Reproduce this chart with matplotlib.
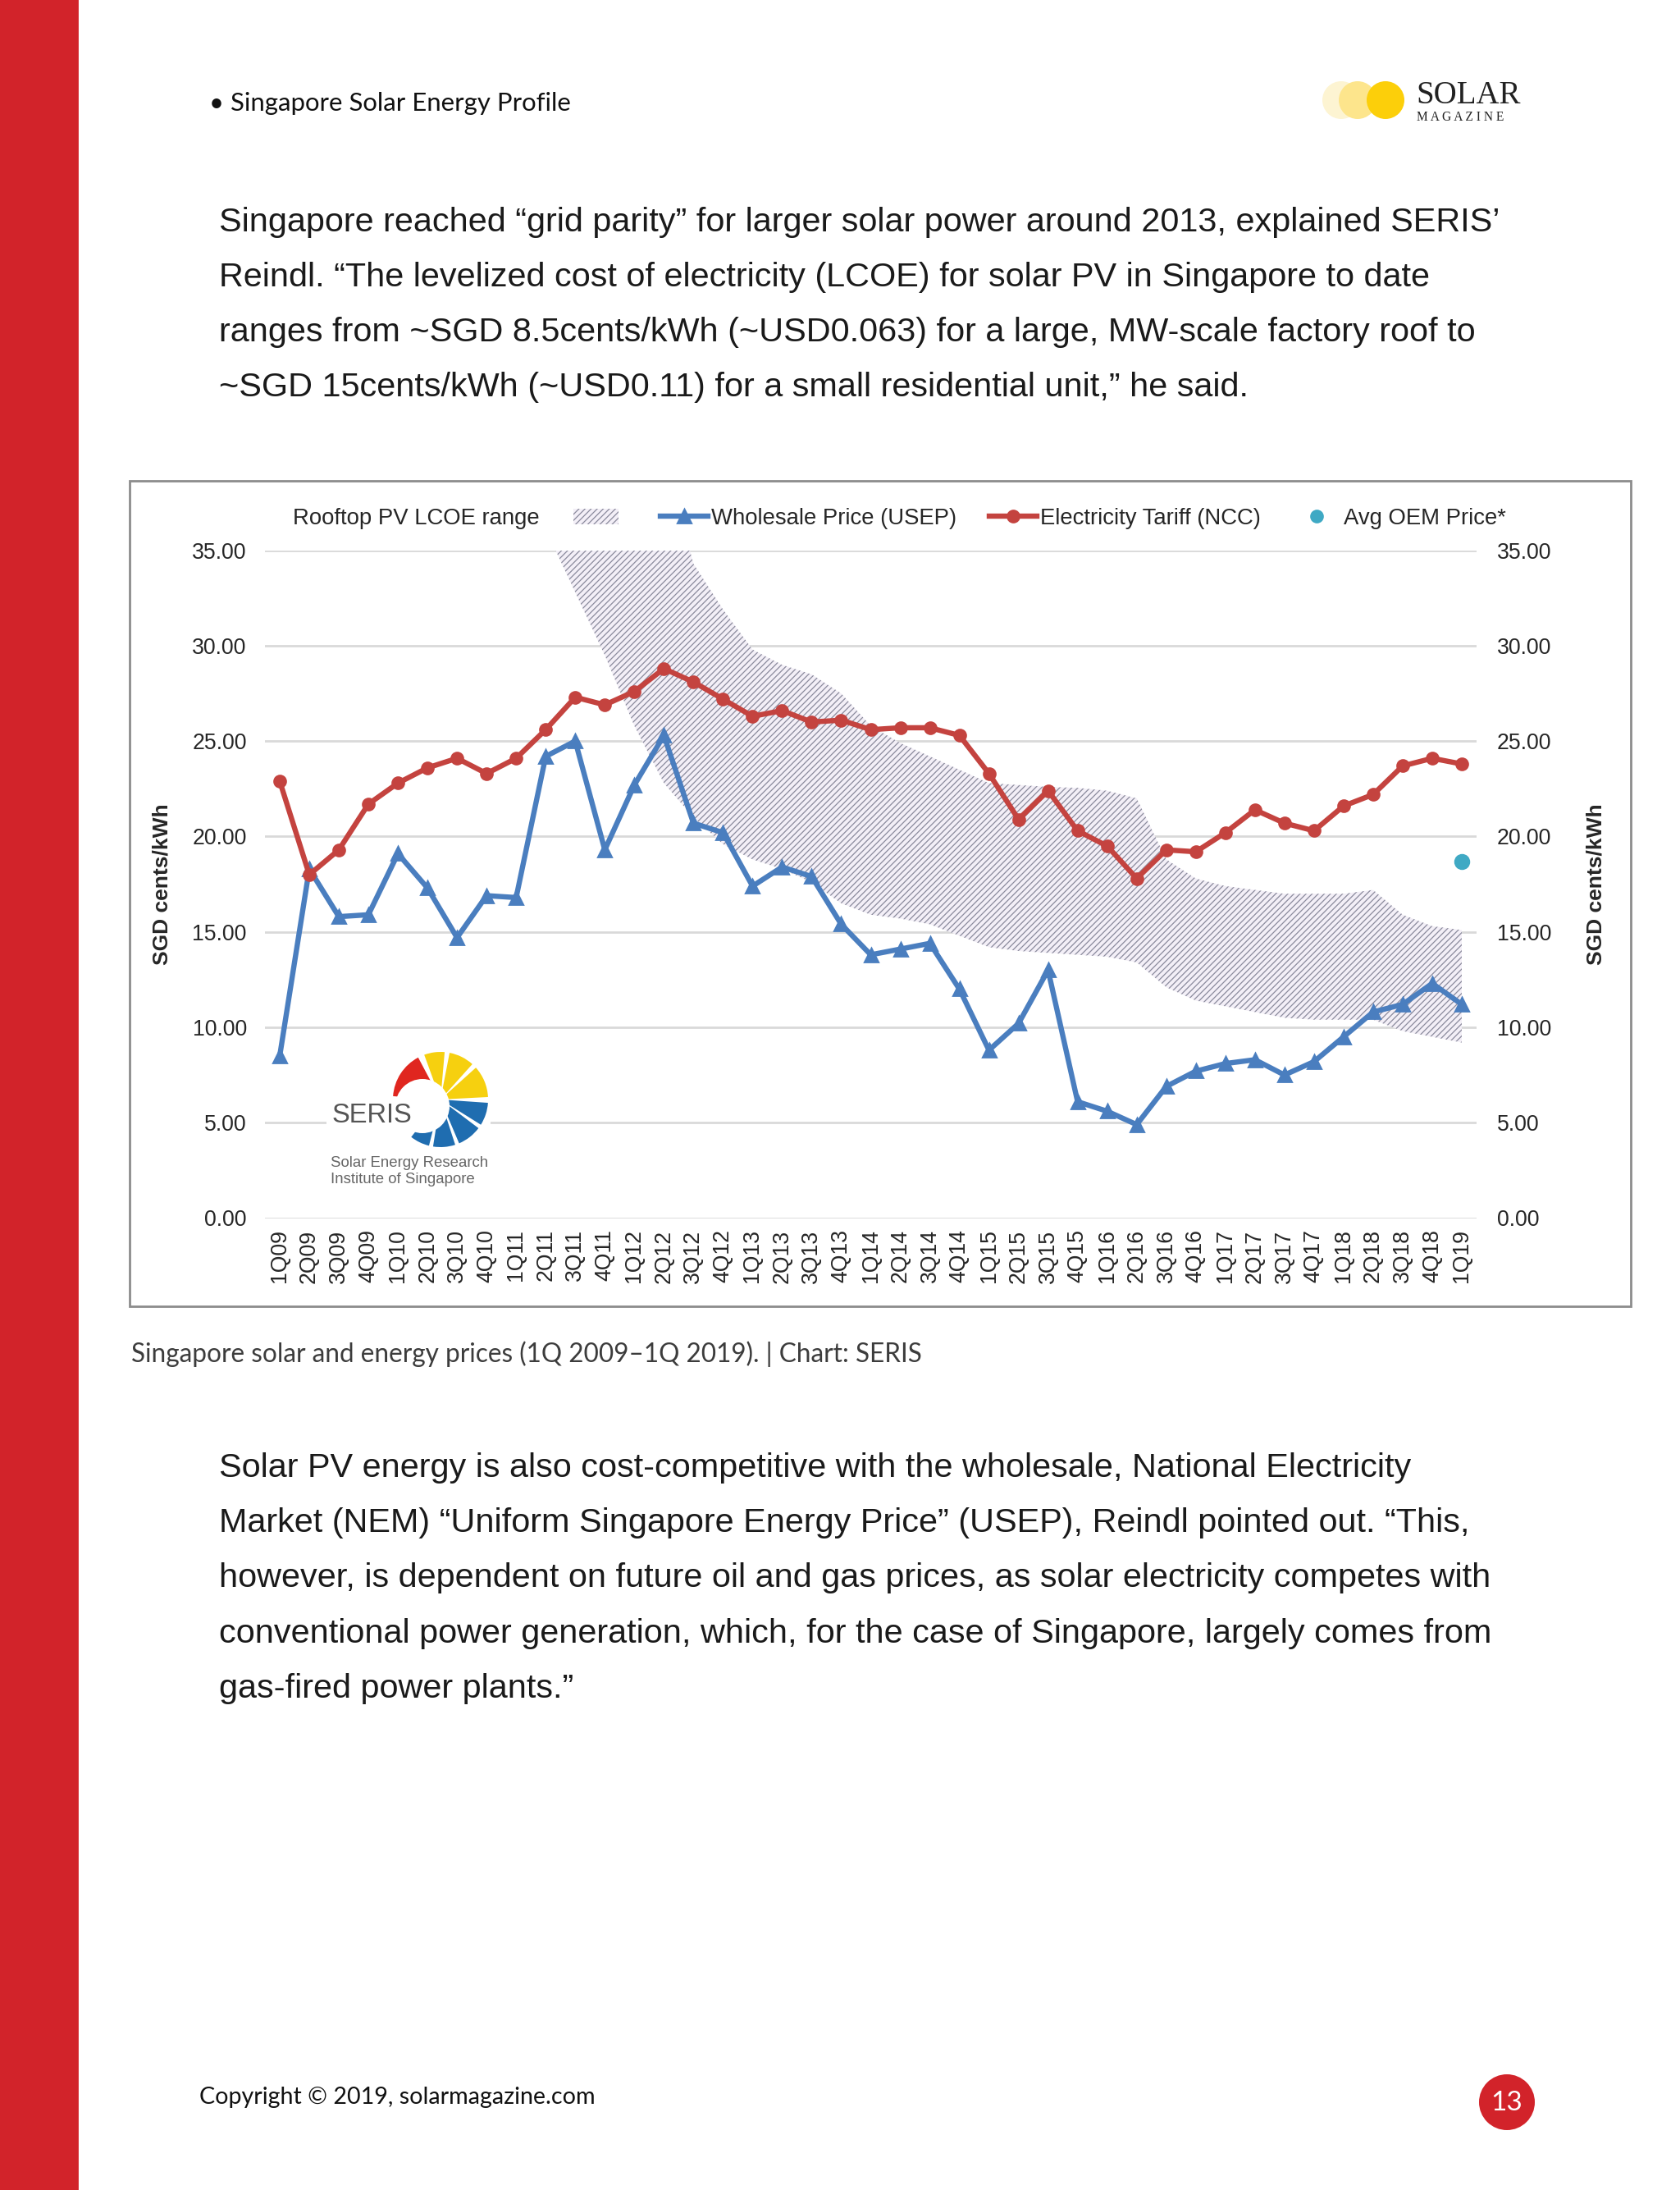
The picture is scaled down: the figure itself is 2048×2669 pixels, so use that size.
import matplotlib
matplotlib.use('Agg')
import matplotlib.pyplot as plt
from matplotlib.patches import Rectangle, Circle, Wedge, Patch
from matplotlib.lines import Line2D
import numpy as np

# ---- data (SGD cents/kWh) ----
quarters = ['1Q09', '2Q09', '3Q09', '4Q09', '1Q10', '2Q10', '3Q10', '4Q10',
            '1Q11', '2Q11', '3Q11', '4Q11', '1Q12', '2Q12', '3Q12', '4Q12',
            '1Q13', '2Q13', '3Q13', '4Q13', '1Q14', '2Q14', '3Q14', '4Q14',
            '1Q15', '2Q15', '3Q15', '4Q15', '1Q16', '2Q16', '3Q16', '4Q16',
            '1Q17', '2Q17', '3Q17', '4Q17', '1Q18', '2Q18', '3Q18', '4Q18',
            '1Q19']

usep = [8.5, 18.3, 15.8, 15.9, 19.1, 17.3, 14.7, 16.9,
        16.8, 24.2, 25.0, 19.3, 22.7, 25.3, 20.7, 20.2,
        17.4, 18.4, 17.9, 15.4, 13.8, 14.1, 14.4, 12.0,
        8.8, 10.2, 13.0, 6.1, 5.6, 4.9, 6.9, 7.7,
        8.1, 8.3, 7.5, 8.2, 9.5, 10.8, 11.2, 12.3,
        11.2]

ncc = [22.9, 18.0, 19.3, 21.7, 22.8, 23.6, 24.1, 23.3,
       24.1, 25.6, 27.3, 26.9, 27.6, 28.8, 28.1, 27.2,
       26.3, 26.6, 26.0, 26.1, 25.6, 25.7, 25.7, 25.3,
       23.3, 20.9, 22.4, 20.3, 19.5, 17.8, 19.3, 19.2,
       20.2, 21.4, 20.7, 20.3, 21.6, 22.2, 23.7, 24.1,
       23.8]

# rooftop PV LCOE range, starts at 2Q11
lcoe_start = '2Q11'
lcoe_low = [36.1, 32.8, 29.5, 25.8, 22.8, 21.0, 19.6, 18.8,
            18.3, 17.6, 16.5, 15.9, 15.7, 15.4, 14.8, 14.2,
            14.0, 13.9, 13.8, 13.7, 13.4, 12.1, 11.4, 11.1,
            10.8, 10.5, 10.4, 10.4, 10.4, 9.8, 9.5, 9.2]
lcoe_high = [48.0, 46.0, 44.0, 42.0, 40.0, 34.3, 31.9, 29.8,
             29.0, 28.5, 27.5, 25.8, 24.9, 24.2, 23.5, 22.8,
             22.7, 22.6, 22.55, 22.4, 22.0, 18.8, 17.8, 17.4,
             17.2, 17.0, 17.0, 17.0, 17.2, 15.9, 15.3, 15.1]

oem_quarter = '1Q19'
oem_price = 18.7

yticks = [0, 5, 10, 15, 20, 25, 30, 35]

para1 = ["Singapore reached \u201cgrid parity\u201d for larger solar power around 2013, explained SERIS\u2019",
         "Reindl. \u201cThe levelized cost of electricity (LCOE) for solar PV in Singapore to date",
         "ranges from ~SGD 8.5cents/kWh (~USD0.063) for a large, MW-scale factory roof to",
         "~SGD 15cents/kWh (~USD0.11) for a small residential unit,\u201d he said."]
para2 = ["Solar PV energy is also cost-competitive with the wholesale, National Electricity",
         "Market (NEM) \u201cUniform Singapore Energy Price\u201d (USEP), Reindl pointed out. \u201cThis,",
         "however, is dependent on future oil and gas prices, as solar electricity competes with",
         "conventional power generation, which, for the case of Singapore, largely comes from",
         "gas-fired power plants.\u201d"]

BLUE = '#4a7ebf'
RED = '#c4433f'
TEAL = '#3fa9c4'
BAND_FACE = '#f3eff7'
HATCH = '#8a8a9c'
PAGE_RED = '#d2232a'

plt.rcParams['hatch.color'] = HATCH
plt.rcParams['hatch.linewidth'] = 0.45

W, H = 2048, 2669
fig = plt.figure(figsize=(W / 200, H / 200), dpi=200)

# page layer in pixel coordinates
page = fig.add_axes([0, 0, 1, 1])
page.set_xlim(0, W)
page.set_ylim(H, 0)
page.axis('off')

page.add_patch(Rectangle((0, 0), 94, H, color=PAGE_RED))
page.add_patch(Rectangle((158, 586), 1830, 1006, fill=False, ec='#8c8c8c', lw=1.0))

# SOLAR MAGAZINE logo
for cx, col in [(1635, '#fdf4d2'), (1655, '#fde58c'), (1689, '#fccf0a')]:
    page.add_patch(Circle((cx, 122), 23, color=col, lw=0))
page.text(1726, 126, 'SOLAR', family='Liberation Serif', fontsize=14, va='baseline', color='#222222')
page.text(1727, 147, 'M A G A Z I N E', family='Liberation Serif', fontsize=5.6, va='baseline', color='#222222')

page.text(255, 126, '\u2022 Singapore Solar Energy Profile', family='Lato', fontsize=11.2, va='center', color='#111111')

for k, line in enumerate(para1):
    page.text(267, 271 + k * 67, line, family='Liberation Sans', fontsize=14.9, va='center', color='#1a1a1a')
for k, line in enumerate(para2):
    page.text(267, 1789 + k * 67.2, line, family='Liberation Sans', fontsize=14.9, va='center', color='#1a1a1a')

page.text(160, 1650, 'Singapore solar and energy prices (1Q 2009\u20131Q 2019). | Chart: SERIS',
          family='Lato', fontsize=11.35, va='center', color='#3c3c3c')
page.text(243, 2556, 'Copyright \u00a9 2019, solarmagazine.com', family='Lato', fontsize=10.3,
          va='center', color='#111111')
page.add_patch(Circle((1837, 2562), 34, color=PAGE_RED, lw=0))
page.text(1837, 2563, '13', family='Lato', fontsize=12, ha='center', va='center', color='white')

# ---- chart ----
x = np.arange(len(quarters))
ax = fig.add_axes([323 / W, 1 - 1484.5 / H, 1477 / W, 813.8 / H])
ax.set_facecolor('none')

i0 = quarters.index(lcoe_start)
xb = x[i0:i0 + len(lcoe_low)]
ax.fill_between(xb, lcoe_low, lcoe_high, facecolor=BAND_FACE, edgecolor=HATCH,
                hatch='/////////', lw=0, zorder=1)

ax.plot(x, usep, color=BLUE, lw=2.3, marker='^', ms=5.5, zorder=3)
ax.plot(x, ncc, color=RED, lw=2.3, marker='o', ms=5, zorder=3)
ax.plot([quarters.index(oem_quarter)], [oem_price], ls='none', marker='o', ms=6,
        color=TEAL, zorder=3)

ax.set_xlim(-0.5, len(quarters) - 0.5)
ax.set_ylim(0, 35)
ax.set_yticks(yticks)
ax.set_yticklabels(['%.2f' % v for v in yticks])
ax.set_xticks(x)
ax.set_xticklabels(quarters, rotation=90)
ax.grid(axis='y', color='#d9d9d9', lw=1.0, zorder=0)
ax.set_axisbelow(True)
for s in ax.spines.values():
    s.set_visible(False)
ax.tick_params(axis='both', length=0, labelsize=9.6, labelcolor='#262626', labelfontfamily='Liberation Sans')
ax.tick_params(axis='y', pad=8)
ax.tick_params(axis='x', pad=5)
ax.set_ylabel('SGD cents/kWh', family='Liberation Sans', fontsize=9.5, fontweight='bold',
              color='#262626', labelpad=9)

ax2 = ax.twinx()
ax2.set_ylim(0, 35)
ax2.set_yticks(yticks)
ax2.set_yticklabels(['%.2f' % v for v in yticks])
for s in ax2.spines.values():
    s.set_visible(False)
ax2.tick_params(axis='y', length=0, pad=9, labelsize=9.6, labelcolor='#262626',
                labelfontfamily='Liberation Sans')
ax2.set_ylabel('SGD cents/kWh', family='Liberation Sans', fontsize=9.5, fontweight='bold',
               color='#262626', labelpad=15, rotation=90)

# legends
band_key = Patch(facecolor=BAND_FACE, edgecolor=HATCH, hatch='/////////', lw=0)
legA = fig.legend([band_key], ['Rooftop PV LCOE range'], loc='center left',
                  bbox_to_anchor=(357 / W, 1 - 632 / H), bbox_transform=fig.transFigure,
                  frameon=False, markerfirst=False, borderpad=0, borderaxespad=0,
                  handlelength=2.0, handletextpad=1.5,
                  prop={'family': 'Liberation Sans', 'size': 9.9})
for t in legA.get_texts():
    t.set_color('#262626')

keys = [Line2D([], [], color=BLUE, lw=2.3, marker='^', ms=5.5),
        Line2D([], [], color=RED, lw=2.3, marker='o', ms=5),
        Line2D([], [], ls='none', color=TEAL, marker='o', ms=5)]
names = ['Wholesale Price (USEP)', 'Electricity Tariff (NCC)', 'Avg OEM Price*']
legB = fig.legend(keys, names, loc='center left', ncol=3, numpoints=1,
                  bbox_to_anchor=(805 / W, 1 - 632 / H), bbox_transform=fig.transFigure,
                  frameon=False, borderpad=0, borderaxespad=0,
                  handlelength=2.1, handletextpad=0.15, columnspacing=1.45,
                  prop={'family': 'Liberation Sans', 'size': 9.9})
for t in legB.get_texts():
    t.set_color('#262626')

# SERIS logo inside the plot (local pixel coords, y up)
lg = fig.add_axes([398 / W, 1 - 1462 / H, 200 / W, 195 / H])
lg.set_xlim(0, 200)
lg.set_ylim(0, 195)
lg.axis('off')
lg.add_patch(Rectangle((0, 0), 200, 195, color='white', lw=0))
c0 = (139, 122)
lg.add_patch(Wedge(c0, 58, 118, 176, color='#e0261f', lw=0))
for a1, a2 in [(85, 110), (48, 79), (3, 42)]:
    lg.add_patch(Wedge(c0, 58, a1, a2, color='#f6d00f', lw=0))
for a1, a2 in [(-32, -4), (-67, -37), (-99, -72), (-128, -104)]:
    lg.add_patch(Wedge(c0, 58, a1, a2, color='#1f6db0', lw=0))
lg.add_patch(Circle((117, 114), 33, color='white', lw=0))
lg.text(7, 94, 'SERIS', family='Liberation Sans', fontsize=11.8, color='#555555', va='baseline')
lg.text(5, 45, 'Solar Energy Research', family='Liberation Sans', fontsize=6.7, color='#666666', va='center')
lg.text(5, 24, 'Institute of Singapore', family='Liberation Sans', fontsize=6.7, color='#666666', va='center')

fig.savefig('out.png', dpi=200, facecolor='white')
